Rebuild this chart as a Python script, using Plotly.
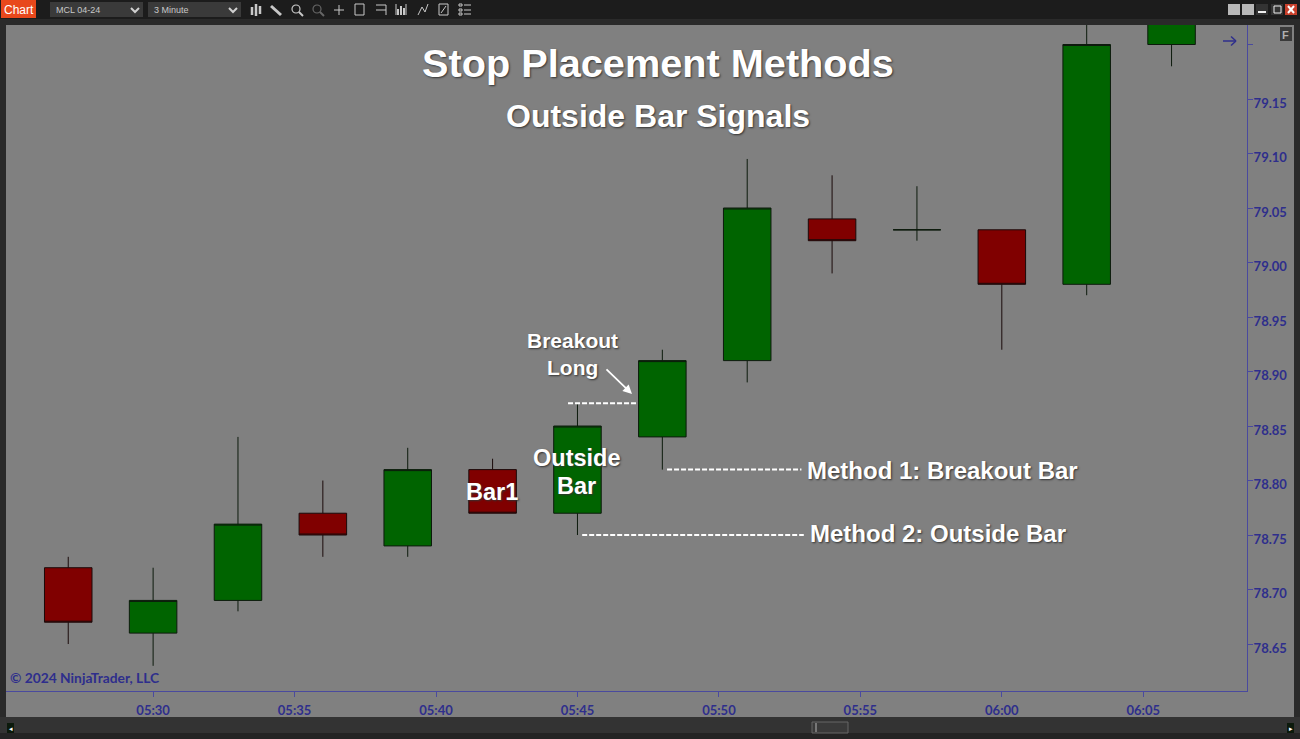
import plotly.graph_objects as go

# ---------- data ----------
bar_times = ["05:27","05:30","05:33","05:36","05:39","05:42","05:45","05:48","05:51","05:54","05:57","06:00","06:03","06:06"]
opens  = [78.72,78.66,78.69,78.77,78.74,78.81,78.77,78.84,78.91,79.04,79.03,79.03,78.98,79.20]
highs  = [78.73,78.72,78.84,78.80,78.83,78.82,78.87,78.92,79.095,79.08,79.07,79.03,79.30,79.30]
lows   = [78.65,78.63,78.68,78.73,78.73,78.77,78.75,78.81,78.89,78.99,79.02,78.92,78.97,79.18]
closes = [78.67,78.69,78.76,78.75,78.81,78.77,78.85,78.91,79.05,79.02,79.03,78.98,79.20,79.25]
price_ticks = [78.65,78.70,78.75,78.80,78.85,78.90,78.95,79.00,79.05,79.10,79.15,79.20]
price_labels = ["78.65","78.70","78.75","78.80","78.85","78.90","78.95","79.00","79.05","79.10","79.15",""]
time_ticks = ["05:30","05:35","05:40","05:45","05:50","05:55","06:00","06:05"]
day = "2024-03-01 "
# (start time, end time, price)
stop_lines = [("05:44:40","05:47:08",78.871),("05:48:10","05:52:55",78.81),("05:45:10","05:53:00",78.75)]

W, H = 1300, 739
L, R, T, B = 6, 1247, 25, 691
BLUE = "#2e2e8c"
def px(x): return (x-L)/(R-L)
def py(y): return (B-y)/(B-T)
def D(t): return day+t

fig = go.Figure(go.Candlestick(
    x=[D(t) for t in bar_times], open=opens, high=highs, low=lows, close=closes,
    increasing=dict(fillcolor="#006400", line=dict(color="#0c1a0c", width=1)),
    decreasing=dict(fillcolor="#800000", line=dict(color="#1a0a0a", width=1)),
    whiskerwidth=0, showlegend=False, hoverinfo="skip"))

shapes, anns = [], []
def rect(x0,y0,x1,y1,fill,line=None):
    shapes.append(dict(type="rect",xref="paper",yref="paper",x0=px(x0),x1=px(x1),y0=py(y0),y1=py(y1),
        fillcolor=fill,line=dict(color=line or fill,width=1 if line else 0),layer="above"))
def seg(x0,y0,x1,y1,color,width=1):
    shapes.append(dict(type="line",xref="paper",yref="paper",x0=px(x0),x1=px(x1),y0=py(y0),y1=py(y1),
        line=dict(color=color,width=width),layer="above"))
def txt(x,y,s,size,color="white",bold=False,family="Liberation Sans",anchor="center",shadow=None):
    f=dict(size=size,color=color,family=family,weight=700 if bold else 400)
    if shadow: f["shadow"]=shadow
    anns.append(dict(xref="paper",yref="paper",x=px(x),y=py(y),text=s,showarrow=False,font=f,xanchor=anchor,yanchor="middle"))

# window frame
rect(0,0,W,19,"#1c1c1c")
rect(0,19,W,25,"#2a2a2a")
rect(0,25,6,H,"#2a2a2a")
rect(1294,25,W,H,"#2a2a2a")
rect(0,717,W,H,"#333333")
rect(0,733,W,H,"#242424")
# tab and selectors
rect(1,0,36,18,"#e8481c")
txt(18.5,9.5,"Chart",12,"white")
rect(50,2,143,17,"#3a3a3a")
txt(54,9.5,"MCL 04-24",9,"#c8c8c8",anchor="left")
rect(148,2,241,17,"#3a3a3a")
txt(152,9.5,"3 Minute",9,"#c8c8c8",anchor="left")
for x0 in (131,229):
    shapes.append(dict(type="path",xref="paper",yref="paper",layer="above",
        path=f"M {px(x0)} {py(8)} L {px(x0+4)} {py(12)} L {px(x0+8)} {py(8)}",line=dict(color="#d0d0d0",width=2)))
# toolbar icons
IC="#c8c8c8"
for x,y0,y1 in ((252,7,15),(256,4,16),(260,6,14)):
    seg(x,y0,x,y1,IC,2.5)
seg(271,6,281,15,IC,3)
for cx,col in ((296,IC),(317,"#666666")):
    shapes.append(dict(type="circle",xref="paper",yref="paper",layer="above",x0=px(cx-4),x1=px(cx+4),y0=py(13),y1=py(5),line=dict(color=col,width=1.2)))
    seg(cx+3,12,cx+7,16,col,2)
seg(334,10,344,10,IC); seg(339,5,339,15,IC)
rect(355,4,364,15,"#1c1c1c",IC)
seg(376,5,386,5,IC); seg(376,10,386,10,IC); seg(386,5,386,15,IC)
for x,y0,y1 in ((398,9,15),(401,6,15),(404,8,15)):
    seg(x,y0,x,y1,IC,2)
seg(396,4,396,15,IC); seg(406,4,406,15,IC)
seg(418,15,422,7,IC); seg(422,7,425,12,IC); seg(425,12,428,4,IC)
rect(439,4,448,15,"#1c1c1c",IC)
seg(441,13,446,6,IC)
for y in (5,10,14):
    rect(459,y-1,462,y+1,"#1c1c1c",IC); seg(464,y,471,y,IC)
# window buttons
rect(1228,4,1240,15,"#b8b8b8")
rect(1242,4,1254,15,"#b8b8b8")
rect(1256,4,1268,15,"#333333"); seg(1258,12,1266,12,"#eeeeee",2)
rect(1271,4,1283,15,"#333333"); rect(1274,6,1281,13,"#333333","#eeeeee")
rect(1285,4,1297,15,"#c8402c"); seg(1288,6,1294,13,"white",2); seg(1294,6,1288,13,"white",2)
# F box
rect(1280,27,1292,41,"#3a3a3a")
txt(1286,34.5,"F",11,"#b0b0b0",bold=True)
# scrollbar
rect(7,723,14,733,"#0c1a0c"); rect(1287,723,1294,733,"#0c1a0c")
txt(10.5,728,"◂",7,"white"); txt(1290.5,728,"▸",7,"white")
rect(812,722,848,733,"#3a3a3a","#666666")
seg(816,723,816,732,"#777777",2)
# right scale arrow
seg(1223,41,1236,41,BLUE,1.5)
seg(1231,36.5,1236,41,BLUE,1.5); seg(1231,45.5,1236,41,BLUE,1.5)

# stop / breakout dashed levels on the data axes
for t0,t1,p in stop_lines:
    shapes.append(dict(type="line",xref="x",yref="y",x0=D(t0),x1=D(t1),y0=p,y1=p,
        line=dict(color="white",width=2,dash="5px,2px"),layer="above"))
# small arrow to breakout
anns.append(dict(xref="paper",yref="paper",axref="pixel",ayref="pixel",x=px(632),y=py(394),ax=-27,ay=-26,
    text="",showarrow=True,arrowhead=2,arrowsize=1,arrowwidth=1.8,arrowcolor="white"))

SH="1px 1px 2px #333333"
txt(658,63,"Stop Placement Methods",39.7,bold=True,shadow=SH)
txt(658,116,"Outside Bar Signals",32,bold=True,shadow=SH)
txt(572,340,"Breakout",21,bold=True,shadow=SH)
txt(572,367,"Long",21,bold=True,shadow=SH)
txt(576.5,458,"Outside",23.5,bold=True,shadow=SH)
txt(576.5,486,"Bar",23.5,bold=True,shadow=SH)
txt(492,492,"Bar1",23.5,bold=True,shadow=SH)
txt(805,470,"Method 1: Breakout Bar",24,bold=True,anchor="left",shadow=SH)
txt(808,533,"Method 2: Outside Bar",24,bold=True,anchor="left",shadow=SH)
txt(8,677,"© 2024 NinjaTrader, LLC",13.8,BLUE,bold=True,family="Lato",anchor="left")

fig.update_layout(
    width=W,height=H,autosize=False,margin=dict(l=L,r=W-R,t=T,b=H-B),
    paper_bgcolor="#808080",plot_bgcolor="#808080",showlegend=False,boxgap=0.2,
    shapes=shapes,annotations=anns,
    xaxis=dict(type="date",rangeslider=dict(visible=False),range=[D("05:24:48"),D("06:08:40")],
        tickvals=[D(t) for t in time_ticks],ticktext=time_ticks,showgrid=False,zeroline=False,
        showline=True,linecolor="#4a4a9e",linewidth=1,ticks="outside",ticklen=5,tickcolor="#4a4a9e",
        tickfont=dict(family="Lato",size=13,color=BLUE,weight=700),ticklabelstandoff=2),
    yaxis=dict(side="right",range=[78.6069,79.2179],tickvals=price_ticks,ticktext=price_labels,
        showgrid=False,zeroline=False,showline=True,linecolor="#4a4a9e",linewidth=1,ticks="outside",ticklen=5,
        tickcolor="#4a4a9e",ticklabelshift=4,ticklabelstandoff=-2,
        tickfont=dict(family="Lato",size=13,color=BLUE,weight=700)),
)
fig.write_html("out.html",config=dict(displayModeBar=False),
    post_script="document.body.style.margin='0';document.body.style.overflow='hidden';")
